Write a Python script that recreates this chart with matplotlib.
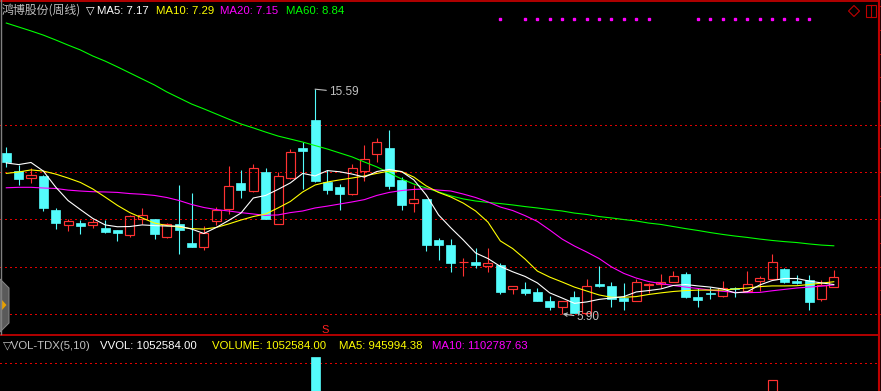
import matplotlib
matplotlib.use('Agg')
import matplotlib.pyplot as plt
from matplotlib.patches import Rectangle, Polygon
from matplotlib.transforms import blended_transform_factory

# weekly bars of 鸿博股份, oldest first
opens = [12.85, 12.08, 11.77, 11.85, 10.38, 9.75, 9.82, 9.72, 9.61, 9.52,
         9.31, 9.98, 9.99, 9.23, 9.80, 8.96, 8.77, 9.89, 10.41, 11.55,
         11.19, 12.02, 9.80, 11.74, 13.05, 14.26, 11.60, 11.37, 11.08, 12.05,
         12.78, 13.05, 11.68, 10.67, 10.86, 9.09, 8.87, 8.12, 8.14, 7.98,
         8.00, 6.96, 6.96, 6.83, 6.45, 6.19, 6.63, 5.96, 7.20, 7.11,
         6.61, 6.47, 7.14, 7.18, 7.29, 7.62, 6.63, 6.82, 6.66, 7.03,
         6.90, 7.31, 7.40, 7.84, 7.32, 7.37, 6.53, 7.08]
highs = [13.11, 12.34, 12.19, 11.87, 10.47, 9.98, 9.95, 10.01, 9.95, 9.53,
         10.17, 10.47, 10.00, 9.82, 11.46, 11.12, 9.69, 10.51, 12.28, 12.11,
         12.38, 12.19, 12.01, 13.02, 13.31, 15.59, 12.11, 11.52, 12.36, 13.18,
         13.49, 13.83, 11.82, 11.45, 10.87, 9.18, 9.13, 8.31, 8.74, 8.74,
         8.09, 7.10, 7.28, 7.03, 6.69, 6.46, 6.89, 7.40, 7.97, 7.28,
         7.25, 7.41, 7.22, 7.62, 7.75, 7.70, 7.00, 7.08, 7.32, 7.08,
         7.75, 7.54, 8.49, 7.88, 7.58, 7.58, 7.35, 7.80]
lows = [12.25, 11.47, 11.56, 10.35, 9.56, 9.49, 9.36, 9.62, 9.40, 9.05,
        9.24, 9.76, 9.14, 9.18, 8.49, 8.78, 8.64, 9.74, 10.23, 10.92,
        11.17, 9.99, 9.78, 11.72, 11.30, 11.59, 11.08, 10.40, 11.04, 11.64,
        12.46, 11.30, 10.40, 10.31, 8.63, 8.24, 7.72, 7.55, 7.90, 7.72,
        6.78, 6.78, 6.73, 6.46, 6.09, 5.90, 5.95, 5.95, 7.05, 6.22,
        6.09, 6.46, 6.79, 7.02, 7.28, 6.60, 6.21, 6.56, 6.65, 6.62,
        6.86, 6.90, 7.39, 7.22, 7.19, 6.09, 6.47, 7.07]
closes = [12.45, 11.73, 11.89, 10.48, 9.83, 9.90, 9.71, 9.86, 9.44, 9.40,
          10.12, 10.15, 9.36, 9.78, 9.53, 8.79, 9.38, 10.38, 11.42, 11.26,
          12.18, 10.01, 11.84, 12.87, 12.94, 11.64, 11.26, 11.08, 12.19, 12.57,
          13.30, 11.43, 10.61, 10.86, 8.89, 8.89, 8.11, 8.13, 8.02, 8.09,
          6.86, 7.09, 6.82, 6.47, 6.21, 6.45, 5.96, 7.10, 7.12, 6.56,
          6.48, 7.27, 7.20, 7.30, 7.54, 6.64, 6.52, 6.78, 7.01, 6.99,
          7.18, 7.45, 8.13, 7.29, 7.25, 6.43, 7.15, 7.48]

ma5 = [12.41, 12.34, 12.43, 12.06, 11.37, 10.79, 10.40, 10.02, 9.74, 9.66,
       9.67, 9.74, 9.71, 9.69, 9.69, 9.56, 9.37, 9.63, 9.93, 10.25,
       10.90, 11.01, 11.27, 11.55, 11.96, 11.85, 12.08, 12.03, 11.93, 11.80,
       12.04, 12.13, 12.04, 11.68, 11.03, 10.17, 9.61, 9.09, 8.53, 8.29,
       7.95, 7.72, 7.52, 7.24, 6.81, 6.59, 6.36, 6.42, 6.53, 6.59,
       6.65, 6.85, 6.91, 6.98, 7.13, 7.17, 7.11, 7.06, 6.98, 6.81,
       6.86, 7.15, 7.34, 7.43, 7.43, 7.32, 7.24, 7.17]
ma10 = [11.96, 12.02, 12.11, 12.06, 11.93, 11.76, 11.57, 11.29, 10.94, 10.58,
        10.27, 10.04, 9.82, 9.71, 9.65, 9.58, 9.56, 9.63, 9.78, 9.95,
        10.10, 10.21, 10.47, 10.75, 11.16, 11.46, 11.59, 11.68, 11.76, 11.85,
        11.96, 12.06, 12.04, 11.80, 11.42, 11.14, 10.94, 10.68, 10.34, 9.86,
        9.05, 8.72, 8.27, 7.75, 7.49, 7.28, 7.06, 6.89, 6.72, 6.62,
        6.62, 6.65, 6.74, 6.81, 6.87, 6.91, 6.93, 6.93, 6.93, 6.98,
        7.02, 7.08, 7.11, 7.11, 7.12, 7.17, 7.23, 7.29]
ma20 = [11.34, 11.36, 11.36, 11.33, 11.31, 11.24, 11.20, 11.17, 11.16, 11.14,
        11.09, 11.06, 11.01, 10.92, 10.79, 10.62, 10.49, 10.40, 10.34, 10.27,
        10.21, 10.15, 10.17, 10.27, 10.34, 10.47, 10.55, 10.64, 10.73, 10.83,
        11.01, 11.14, 11.22, 11.27, 11.29, 11.24, 11.20, 11.07, 10.92, 10.73,
        10.51, 10.36, 10.14, 9.89, 9.52, 9.13, 8.83, 8.57, 8.29, 7.93,
        7.65, 7.45, 7.30, 7.21, 7.13, 7.06, 7.00, 6.93, 6.88, 6.83,
        6.82, 6.83, 6.90, 6.96, 7.02, 7.06, 7.10, 7.15]
ma60 = [18.44, 18.27, 18.10, 17.92, 17.71, 17.49, 17.28, 17.02, 16.80, 16.55,
        16.29, 16.03, 15.77, 15.47, 15.21, 14.95, 14.74, 14.52, 14.30, 14.09,
        13.92, 13.74, 13.57, 13.44, 13.31, 13.16, 13.01, 12.84, 12.67, 12.45,
        12.24, 11.98, 11.72, 11.50, 11.33, 11.16, 10.99, 10.86, 10.77, 10.71,
        10.66, 10.60, 10.53, 10.47, 10.40, 10.34, 10.25, 10.19, 10.10, 10.04,
        9.97, 9.91, 9.82, 9.76, 9.67, 9.58, 9.50, 9.41, 9.33, 9.26,
        9.20, 9.13, 9.07, 9.02, 8.98, 8.92, 8.87, 8.84]

# weeks flagged by the dot indicator along the top
signal_weeks = [40, 42, 43, 44, 45, 46, 47, 48, 49, 50, 51, 52,
                56, 57, 58, 59, 60, 61, 62, 63, 64, 65]

# only the volume bars tall enough to show in the cropped lower panel
vol_weeks = [25, 62, 67]
vol_values = [3590000, 2800000, 1052584]

grid_prices = [5.90, 7.94, 9.98, 12.02, 14.06]

CYAN = '#54fcfc'
RED = '#ff3232'
BORDER = '#c00000'
GRAY = '#c0c0c0'
ASCII = ['Liberation Sans', 'DejaVu Sans']
CJK = ['Noto Sans CJK SC', 'DejaVu Sans']

W, H = 881, 391
fig = plt.figure(figsize=(W / 100, H / 100), dpi=100, facecolor='black')

ax = fig.add_axes([0, 57 / H, 878 / W, 334 / H])
ax.set_facecolor('black')
ax.set_xlim(-0.51, 70.58)
ax.set_ylim(5.038, 19.433)
for side in ['top', 'left', 'bottom']:
    ax.spines[side].set_visible(False)
ax.spines['right'].set_color(BORDER)
ax.set_xticks([])
ax.yaxis.tick_right()
ax.set_yticks([5.90 + 1.02 * k for k in range(14)])
ax.tick_params(axis='y', direction='out', length=2.2, width=0.75,
               color=BORDER, labelright=False)

for gp in grid_prices:
    ax.axhline(gp, color='#e00000', lw=0.8, ls=(0, (1, 3)), zorder=0,
               antialiased=False)

BODY = 0.73
for i in range(len(opens)):
    o, h, l, c = opens[i], highs[i], lows[i], closes[i]
    if c >= o:
        ax.vlines(i, c, h, color=RED, lw=0.8, zorder=2)
        ax.vlines(i, l, o, color=RED, lw=0.8, zorder=2)
        ax.add_patch(Rectangle((i - BODY / 2, o), BODY, max(c - o, 0.005),
                               fill=False, ec=RED, lw=0.85, zorder=2))
    else:
        ax.vlines(i, l, h, color=CYAN, lw=0.8, zorder=2)
        ax.add_patch(Rectangle((i - BODY / 2, c), BODY, o - c,
                               fc=CYAN, ec=CYAN, lw=0.5, zorder=2))

weeks = list(range(len(opens)))
ax.plot(weeks, ma60, color='#00ff00', lw=0.8, zorder=3)
ax.plot(weeks, ma20, color='#ff00ff', lw=0.8, zorder=3)
ax.plot(weeks, ma10, color='#ffff00', lw=0.8, zorder=3)
ax.plot(weeks, ma5, color='white', lw=0.8, zorder=3)

top_trans = blended_transform_factory(ax.transData, ax.transAxes)
ax.plot(signal_weeks, [0.943] * len(signal_weeks), 's', ms=1.5,
        color='#ff00ff', transform=top_trans, zorder=3)

# high / low marks
hi = highs.index(max(highs))
lo = lows.index(min(lows))
ax.annotate(f'{highs[hi]:.2f}', xy=(hi, highs[hi]), xytext=(14, -3),
            textcoords='offset pixels', va='center', ha='left',
            color=GRAY, fontsize=8.5, family=ASCII,
            arrowprops=dict(arrowstyle='-', color=GRAY, lw=0.8,
                            shrinkA=0, shrinkB=0))
ax.annotate(f'{lows[lo]:.2f}', xy=(lo + 0.05, lows[lo]), xytext=(14, -3.5),
            textcoords='offset pixels', va='center', ha='left',
            color=GRAY, fontsize=8.5, family=ASCII,
            arrowprops=dict(arrowstyle='->', color=GRAY, lw=0.8,
                            shrinkA=0, shrinkB=0, mutation_scale=6))
ax.text(25.8, 0.004, 'S', transform=top_trans, color='#ff2020',
        fontsize=8, ha='center', va='baseline', family=ASCII)

# volume panel (cropped at the bottom of the picture)
vax = fig.add_axes([0, 0, 878 / W, 57 / H])
vax.set_facecolor('black')
vax.set_xlim(-0.51, 70.58)
vax.set_ylim(2415000, 4410000)
for side in ['top', 'left', 'bottom']:
    vax.spines[side].set_visible(False)
vax.spines['right'].set_color(BORDER)
vax.set_xticks([])
vax.set_yticks([])
vax.axhline(3400000, color='#e00000', lw=0.8, ls=(0, (1, 3)), zorder=0,
            antialiased=False)
for wk, v in zip(vol_weeks, vol_values):
    if closes[wk] >= opens[wk]:
        vax.add_patch(Rectangle((wk - BODY / 2, 0), BODY, v,
                                fill=False, ec=RED, lw=0.85))
    else:
        vax.add_patch(Rectangle((wk - BODY / 2, 0), BODY, v,
                                fc=CYAN, ec=CYAN, lw=0.5))

# frame decorations in pixel space
over = fig.add_axes([0, 0, 1, 1], facecolor='none')
over.set_xlim(0, W)
over.set_ylim(H, 0)
over.axis('off')
over.plot([0, 878], [0.8, 0.8], color=BORDER, lw=1.3)
over.plot([0, 878], [334.5, 334.5], color=BORDER, lw=1.3)
over.plot([878.5, 878.5], [0, H], color=BORDER, lw=1)
over.plot([0.5, 0.5], [0, 334], color='#808080', lw=1)
over.add_patch(Polygon([(0, 279), (9, 288), (9, 323), (0, 332)],
                       closed=True, fc='#5a5a5a', ec='#8a8a8a', lw=0.7))
over.add_patch(Polygon([(2, 300), (6.5, 305), (2, 310)],
                       closed=True, fc='#e8a000', ec='none'))
over.add_patch(Polygon([(848.5, 11), (854, 5.5), (859.5, 11), (854, 16.5)],
                       closed=True, fill=False, ec=BORDER, lw=0.8))
over.add_patch(Rectangle((866, 5), 10, 11.5, fill=False, ec=BORDER, lw=0.8))
over.plot([871, 871], [5, 16.5], color=BORDER, lw=0.8)


def label(xp, yp, s, color, fam=ASCII, size=8.2):
    over.text(xp, yp, s, color=color, family=fam, fontsize=size,
              ha='left', va='baseline')


label(2, 14, '鸿博股份(周线)', GRAY, fam=CJK, size=8.6)
label(86, 13.5, '▽', 'white', size=8)
label(97, 13.5, f'MA5: {ma5[-1]:.2f}', 'white')
label(156, 13.5, f'MA10: {ma10[-1]:.2f}', '#ffff00')
label(220, 13.5, f'MA20: {ma20[-1]:.2f}', '#ff00ff')
label(286, 13.5, f'MA60: {ma60[-1]:.2f}', '#00ff00')

label(3, 349, '▽VOL-TDX(5,10)', GRAY)
label(100, 349, 'VVOL: 1052584.00', 'white')
label(212, 349, 'VOLUME: 1052584.00', '#ffff00')
label(339, 349, 'MA5: 945994.38', '#ffff00')
label(432, 349, 'MA10: 1102787.63', '#ff00ff')

fig.savefig('out.png', dpi=100, facecolor='black')
